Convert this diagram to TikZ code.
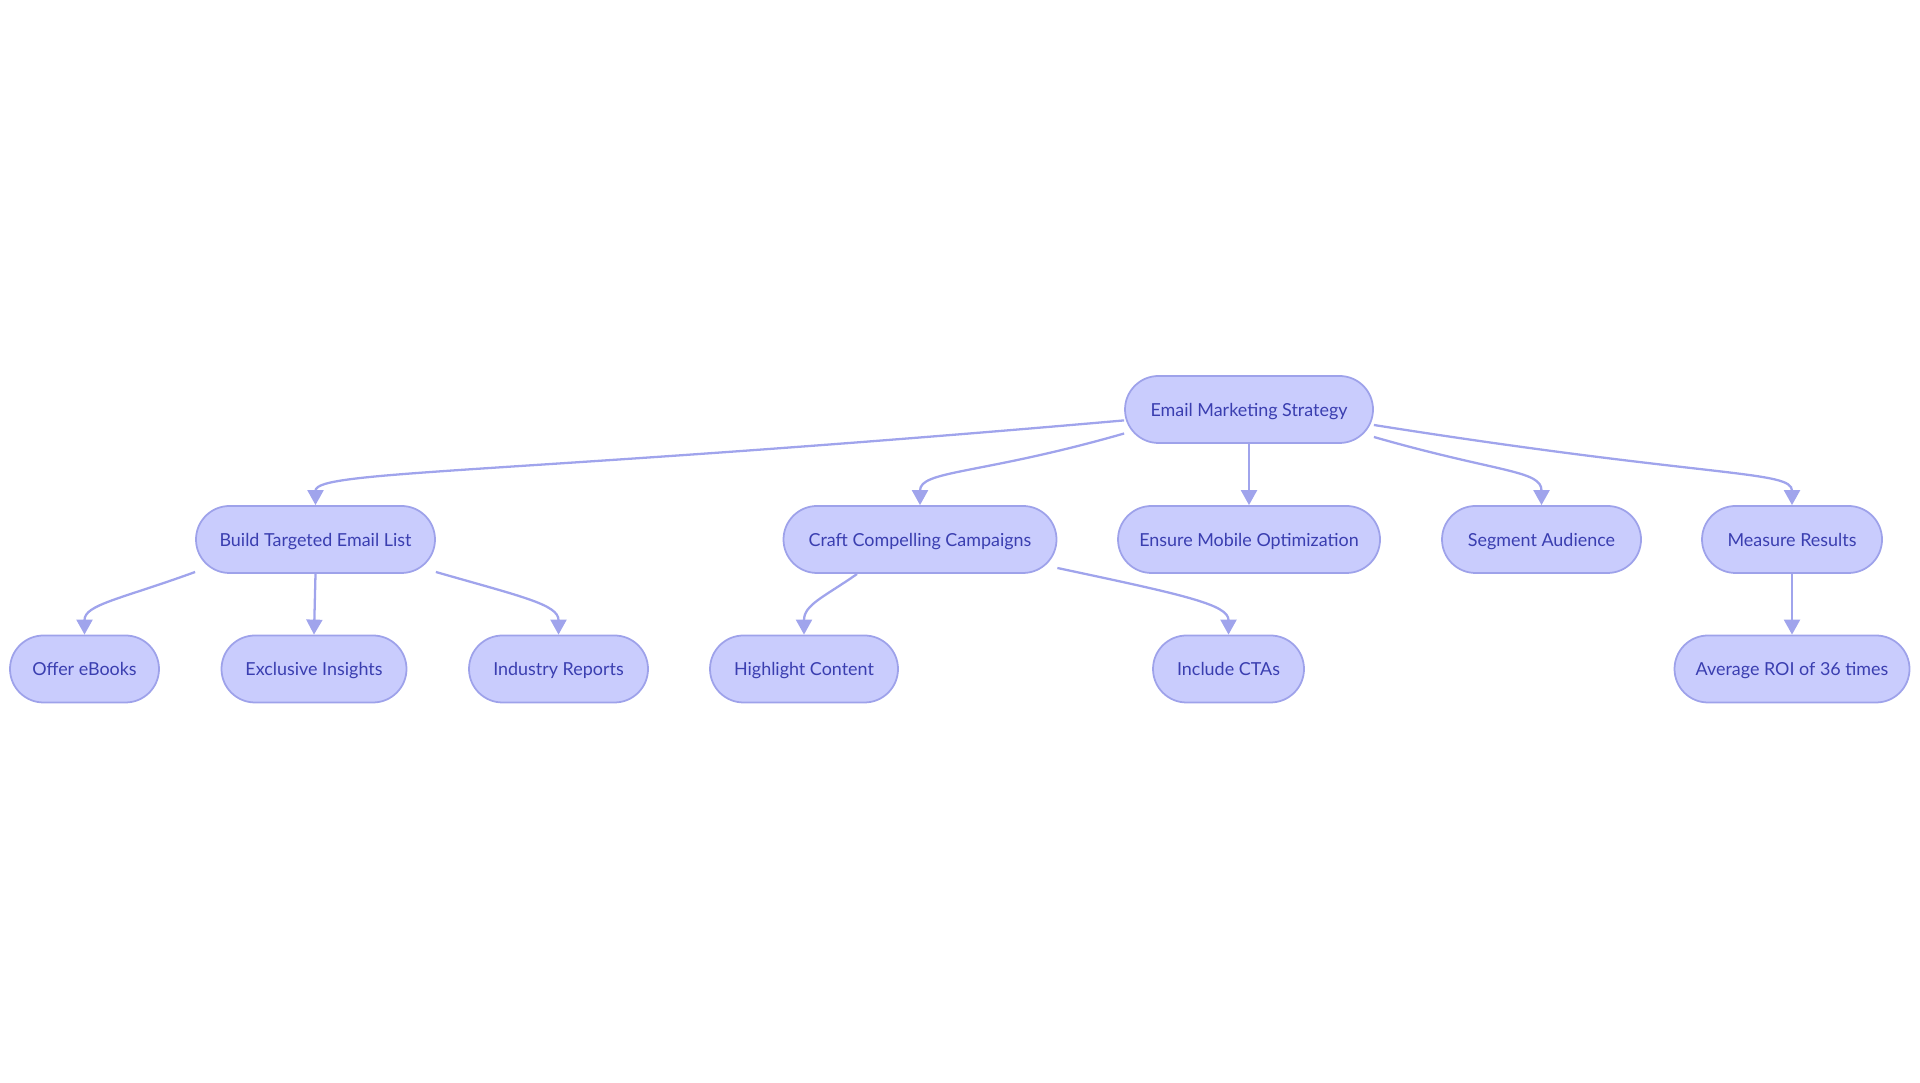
\documentclass[tikz,border=0pt]{standalone}
\usepackage{fontspec}
\setmainfont{Lato}
\usepackage{xcolor}
\usepackage{tikz}
\usetikzlibrary{arrows.meta,positioning,calc}
\definecolor{nfill}{HTML}{C9CCFD}
\definecolor{ndraw}{HTML}{9EA2EA}
\definecolor{ntext}{HTML}{3A3EB0}
\definecolor{eline}{HTML}{A0A4EC}
\tikzset{
  pill/.style={draw=ndraw, fill=nfill, text=ntext, line width=0.5pt,
    rounded corners=0.335cm, minimum height=0.67cm, minimum width=#1,
    inner xsep=0pt, text height=4.6pt, text depth=0.7pt,
    font=\fontsize{5.1}{6}\selectfont},
  pill/.default=2cm,
  edge/.style={draw=eline, line width=0.65pt, -{Triangle[length=0.15cm,width=0.16cm]}},
}

\begin{document}
\begin{tikzpicture}
\useasboundingbox (0,0) rectangle (19.2,10.83);
% top level
\node[pill=2.48cm] (strat) at (12.49,6.735) {Email Marketing Strategy};
\node[pill=2.39cm] (build) at (3.155,5.435) {Build Targeted Email List};
\node[pill=2.73cm] (craft) at (9.2,5.435) {Craft Compelling Campaigns};
\node[pill=2.62cm] (mobile) at (12.49,5.435) {Ensure Mobile Optimization};
\node[pill=1.99cm] (segm) at (15.415,5.435) {Segment Audience};
\node[pill=1.80cm] (meas) at (17.92,5.435) {Measure Results};
% bottom row
\node[pill=1.49cm] (ebook) at (0.845,4.14) {Offer eBooks};
\node[pill=1.85cm] (insig) at (3.14,4.14) {Exclusive Insights};
\node[pill=1.79cm] (indus) at (5.585,4.14) {Industry Reports};
\node[pill=1.88cm] (highl) at (8.04,4.14) {Highlight Content};
\node[pill=1.51cm] (ctas) at (12.285,4.14) {Include CTAs};
\node[pill=2.35cm] (roi) at (17.92,4.14) {Average ROI of 36 times};

\draw[edge] (strat.185) .. controls +(185:6.2) and +(90:0.35) .. (build.north);
\draw[edge] (strat.west |- 0,6.495) .. controls +(196:1.5) and +(90:0.35) .. (craft.north);
\draw[edge] (strat.south) -- (mobile.north);
\draw[edge] (strat.east |- 0,6.46) .. controls +(-16:1.3) and +(90:0.35) .. (segm.north);
\draw[edge] (strat.east |- 0,6.58) .. controls +(-9:3.4) and +(90:0.35) .. (meas.north);

\draw[edge] (build.west |- 0,5.11) .. controls +(200:0.8) and +(90:0.3) .. (ebook.north);
\draw[edge] (build.south) -- (insig.north);
\draw[edge] (build.east |- 0,5.11) .. controls +(-16:0.9) and +(90:0.3) .. (indus.north);
\draw[edge] (8.57,5.09) .. controls +(215:0.4) and +(90:0.3) .. (highl.north);
\draw[edge] (craft.east |- 0,5.15) .. controls +(-12:1.3) and +(90:0.3) .. (ctas.north);
\draw[edge] (meas.south) -- (roi.north);
\end{tikzpicture}
\end{document}
